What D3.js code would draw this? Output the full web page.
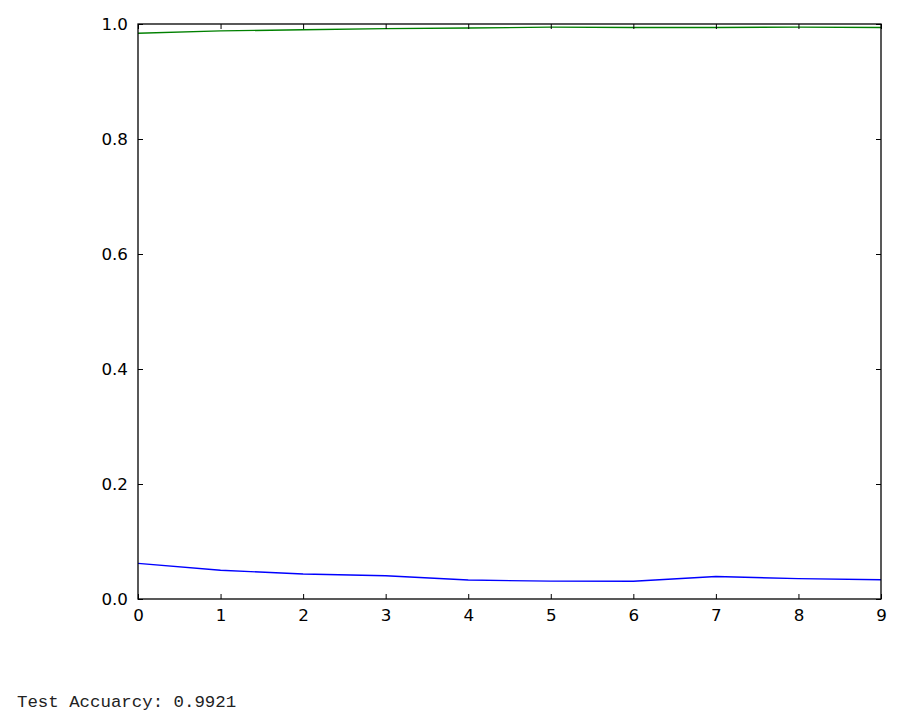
<!DOCTYPE html>
<html>
<head>
<meta charset="utf-8">
<script src="https://cdn.jsdelivr.net/npm/d3@7"></script>
<style>
  html, body { margin: 0; padding: 0; background: #fff; }
  svg { display: block; }
</style>
</head>
<body>
<svg id="chart" width="898" height="718"></svg>
<script>
const epochs = [0, 1, 2, 3, 4, 5, 6, 7, 8, 9];
const accuracy = [0.984, 0.988, 0.990, 0.992, 0.993, 0.9945, 0.994, 0.994, 0.9945, 0.994];
const loss = [0.062, 0.050, 0.0435, 0.0405, 0.033, 0.031, 0.031, 0.039, 0.0355, 0.0335];
const xTicks = [0, 1, 2, 3, 4, 5, 6, 7, 8, 9];
const yTicks = [0.0, 0.2, 0.4, 0.6, 0.8, 1.0];
const caption = "Test Accuarcy: 0.9921";

(function () {
const svg = d3.select("#chart");
const pL = 138, pR = 881, pT = 24, pB = 599;

const x = d3.scaleLinear().domain([0, 9]).range([pL, pR]);
const y = d3.scaleLinear().domain([0, 1]).range([pB, pT]);

const tickFont = "'DejaVu Sans', sans-serif";
const tickSize = 16.7;

const line = d3.line().x((d, i) => x(epochs[i])).y(d => y(d));
svg.append("path").datum(accuracy).attr("d", line)
  .attr("fill", "none").attr("stroke", "#008000").attr("stroke-width", 1.4);
svg.append("path").datum(loss).attr("d", line)
  .attr("fill", "none").attr("stroke", "#0000ff").attr("stroke-width", 1.4);

const bottomAxis = d3.axisBottom(x).tickValues(xTicks).tickFormat(d3.format("d")).tickSizeInner(-5).tickSizeOuter(0).tickPadding(10);
const topAxis = d3.axisTop(x).tickValues(xTicks).tickFormat("").tickSizeInner(-5).tickSizeOuter(0);
const leftAxis = d3.axisLeft(y).tickValues(yTicks).tickFormat(d3.format(".1f")).tickSizeInner(-5).tickSizeOuter(0).tickPadding(10);
const rightAxis = d3.axisRight(y).tickValues(yTicks).tickFormat("").tickSizeInner(-5).tickSizeOuter(0);

function style(g) {
  g.select(".domain").remove();
  g.selectAll(".tick line").attr("stroke", "#000").attr("stroke-width", 1);
  g.selectAll(".tick text").attr("fill", "#000").style("font-family", tickFont).style("font-size", tickSize + "px");
}

svg.append("g").attr("transform", `translate(0,${pB})`).call(bottomAxis).call(style);
svg.append("g").attr("transform", `translate(0,${pT})`).call(topAxis).call(style);
svg.append("g").attr("transform", `translate(${pL},0)`).call(leftAxis).call(style);
svg.append("g").attr("transform", `translate(${pR},0)`).call(rightAxis).call(style);

svg.append("rect").attr("x", pL).attr("y", pT).attr("width", pR - pL).attr("height", pB - pT)
  .attr("fill", "none").attr("stroke", "#000").attr("stroke-width", 1.3);

svg.append("text").attr("x", 17).attr("y", 707).text(caption)
  .style("font-family", "'Liberation Mono', 'DejaVu Sans Mono', monospace")
  .style("font-size", "17.4px").attr("fill", "#222");
})();
</script>
</body>
</html>
